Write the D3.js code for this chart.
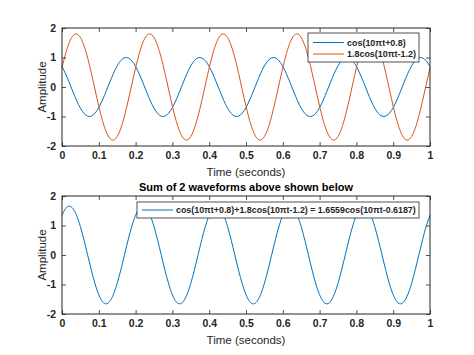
<!DOCTYPE html>
<html>
<head>
<meta charset="utf-8">
<script src="https://cdn.jsdelivr.net/npm/d3@7/dist/d3.min.js"></script>
<style>
  html, body { margin: 0; padding: 0; background: #ffffff; }
  svg { display: block; font-family: "Liberation Sans", Arial, Helvetica, sans-serif; }
</style>
</head>
<body>
<svg id="chart" width="474" height="355"></svg>
<script>
const timeSeconds = [0,0.01,0.02,0.03,0.04,0.05,0.06,0.07,0.08,0.09,0.1,0.11,0.12,0.13,0.14,0.15,0.16,0.17,0.18,0.19,
  0.2,0.21,0.22,0.23,0.24,0.25,0.26,0.27,0.28,0.29,0.3,0.31,0.32,0.33,0.34,0.35,0.36,0.37,0.38,0.39,
  0.4,0.41,0.42,0.43,0.44,0.45,0.46,0.47,0.48,0.49,0.5,0.51,0.52,0.53,0.54,0.55,0.56,0.57,0.58,0.59,
  0.6,0.61,0.62,0.63,0.64,0.65,0.66,0.67,0.68,0.69,0.7,0.71,0.72,0.73,0.74,0.75,0.76,0.77,0.78,0.79,
  0.8,0.81,0.82,0.83,0.84,0.85,0.86,0.87,0.88,0.89,0.9,0.91,0.92,0.93,0.94,0.95,0.96,0.97,0.98,0.99,1];

const wave1 = [0.697,0.441,0.142,-0.171,-0.467,-0.717,-0.898,-0.990,-0.985,-0.884,-0.697,-0.441,-0.142,0.171,0.467,0.717,0.898,0.990,0.985,0.884,
  0.697,0.441,0.142,-0.171,-0.467,-0.717,-0.898,-0.990,-0.985,-0.884,-0.697,-0.441,-0.142,0.171,0.467,0.717,0.898,0.990,0.985,0.884,
  0.697,0.441,0.142,-0.171,-0.467,-0.717,-0.898,-0.990,-0.985,-0.884,-0.697,-0.441,-0.142,0.171,0.467,0.717,0.898,0.990,0.985,0.884,
  0.697,0.441,0.142,-0.171,-0.467,-0.717,-0.898,-0.990,-0.985,-0.884,-0.697,-0.441,-0.142,0.171,0.467,0.717,0.898,0.990,0.985,0.884,
  0.697,0.441,0.142,-0.171,-0.467,-0.717,-0.898,-0.990,-0.985,-0.884,-0.697,-0.441,-0.142,0.171,0.467,0.717,0.898,0.990,0.985,0.884,
  0.697];

const wave2 = [0.652,1.139,1.514,1.741,1.797,1.678,1.394,0.974,0.459,-0.102,-0.652,-1.139,-1.514,-1.741,-1.797,-1.678,-1.394,-0.974,-0.459,0.102,
  0.652,1.139,1.514,1.741,1.797,1.678,1.394,0.974,0.459,-0.102,-0.652,-1.139,-1.514,-1.741,-1.797,-1.678,-1.394,-0.974,-0.459,0.102,
  0.652,1.139,1.514,1.741,1.797,1.678,1.394,0.974,0.459,-0.102,-0.652,-1.139,-1.514,-1.741,-1.797,-1.678,-1.394,-0.974,-0.459,0.102,
  0.652,1.139,1.514,1.741,1.797,1.678,1.394,0.974,0.459,-0.102,-0.652,-1.139,-1.514,-1.741,-1.797,-1.678,-1.394,-0.974,-0.459,0.102,
  0.652,1.139,1.514,1.741,1.797,1.678,1.394,0.974,0.459,-0.102,-0.652,-1.139,-1.514,-1.741,-1.797,-1.678,-1.394,-0.974,-0.459,0.102,
  0.652];

const waveSum = [1.349,1.580,1.656,1.570,1.330,0.960,0.496,-0.016,-0.527,-0.986,-1.349,-1.580,-1.656,-1.570,-1.330,-0.960,-0.496,0.016,0.527,0.986,
  1.349,1.580,1.656,1.570,1.330,0.960,0.496,-0.016,-0.527,-0.986,-1.349,-1.580,-1.656,-1.570,-1.330,-0.960,-0.496,0.016,0.527,0.986,
  1.349,1.580,1.656,1.570,1.330,0.960,0.496,-0.016,-0.527,-0.986,-1.349,-1.580,-1.656,-1.570,-1.330,-0.960,-0.496,0.016,0.527,0.986,
  1.349,1.580,1.656,1.570,1.330,0.960,0.496,-0.016,-0.527,-0.986,-1.349,-1.580,-1.656,-1.570,-1.330,-0.960,-0.496,0.016,0.527,0.986,
  1.349,1.580,1.656,1.570,1.330,0.960,0.496,-0.016,-0.527,-0.986,-1.349,-1.580,-1.656,-1.570,-1.330,-0.960,-0.496,0.016,0.527,0.986,
  1.349];

const xTicks = [0,0.1,0.2,0.3,0.4,0.5,0.6,0.7,0.8,0.9,1];
const xTickLabels = ["0","0.1","0.2","0.3","0.4","0.5","0.6","0.7","0.8","0.9","1"];
const yTicks = [-2,-1,0,1,2];
const yTickLabels = ["-2","-1","0","1","2"];

const legendTop = ["cos(10\u03C0t+0.8)", "1.8cos(10\u03C0t-1.2)"];
const legendBottom = ["cos(10\u03C0t+0.8)+1.8cos(10\u03C0t-1.2) = 1.6559cos(10\u03C0t-0.6187)"];
const xLabel = "Time (seconds)";
const yLabel = "Amplitude";
const bottomTitle = "Sum of 2 waveforms above shown below";

// ---- drawing ----
const blue = "#0072BD", orange = "#D95319", axisColor = "#262626";
const svg = d3.select("#chart");

function drawPanel(top, bottom, seriesList, legendTexts, legendBox) {
  const left = 62, right = 430;
  const x = d3.scaleLinear().domain([0, 1]).range([left, right]);
  const y = d3.scaleLinear().domain([-2, 2]).range([bottom, top]);
  const g = svg.append("g");

  const line = d3.line().x((d, i) => x(timeSeconds[i])).y(d => y(d)).curve(d3.curveNatural);
  seriesList.forEach(s => {
    g.append("path").datum(s.values)
      .attr("fill", "none").attr("stroke", s.color).attr("stroke-width", 1)
      .attr("d", line);
  });

  const tick = 4;
  const fmtX = (d) => xTickLabels[xTicks.indexOf(d)];
  const fmtY = (d) => yTickLabels[yTicks.indexOf(d)];

  const ax = g.append("g").attr("transform", `translate(0,${bottom})`)
    .call(d3.axisBottom(x).tickValues(xTicks).tickFormat(fmtX).tickSizeInner(-tick).tickSizeOuter(0).tickPadding(6));
  const axTop = g.append("g").attr("transform", `translate(0,${top})`)
    .call(d3.axisTop(x).tickValues(xTicks).tickFormat("").tickSizeInner(-tick).tickSizeOuter(0));
  const ay = g.append("g").attr("transform", `translate(${left},0)`)
    .call(d3.axisLeft(y).tickValues(yTicks).tickFormat(fmtY).tickSizeInner(-tick).tickSizeOuter(0).tickPadding(6));
  const ayR = g.append("g").attr("transform", `translate(${right},0)`)
    .call(d3.axisRight(y).tickValues(yTicks).tickFormat("").tickSizeInner(-tick).tickSizeOuter(0));

  [ax, axTop, ay, ayR].forEach(a => {
    a.select(".domain").remove();
    a.selectAll(".tick line").attr("stroke", axisColor).attr("stroke-width", 0.8);
    a.selectAll("text").attr("fill", axisColor).attr("font-size", 10.5).attr("font-weight", "bold")
      .attr("font-family", "'Liberation Sans', Arial, sans-serif");
  });
  ax.selectAll("text").attr("dy", "0.71em");

  g.append("rect").attr("x", left).attr("y", top).attr("width", right - left).attr("height", bottom - top)
    .attr("fill", "none").attr("stroke", axisColor).attr("stroke-width", 1);

  g.append("text").attr("x", (left + right) / 2).attr("y", bottom + 30)
    .attr("text-anchor", "middle").attr("font-size", 11.5).attr("fill", axisColor).text(xLabel);
  g.append("text").attr("transform", `translate(${left - 16},${(top + bottom) / 2}) rotate(-90)`)
    .attr("text-anchor", "middle").attr("font-size", 11.5).attr("fill", axisColor).text(yLabel);

  // legend
  const lg = g.append("g");
  lg.append("rect").attr("x", legendBox.x).attr("y", legendBox.y).attr("width", legendBox.w).attr("height", legendBox.h)
    .attr("fill", "#ffffff").attr("stroke", axisColor).attr("stroke-width", 0.8);
  const textX = legendBox.x + 39;
  const maxW = legendBox.x + legendBox.w - 3 - textX;
  const texts = legendTexts.map((t, i) => {
    const cy = legendBox.y + legendBox.rowStart + i * legendBox.rowGap;
    lg.append("line").attr("x1", legendBox.x + 5).attr("x2", legendBox.x + 36)
      .attr("y1", cy).attr("y2", cy).attr("stroke", seriesList[i].color).attr("stroke-width", 1);
    return lg.append("text").attr("x", textX).attr("y", cy).attr("dy", "0.35em")
      .attr("font-size", 10).attr("font-weight", "bold").attr("fill", axisColor).text(t);
  });
  // fit font size so the widest entry fills the box like the reference
  const widest = d3.max(texts, t => t.node().getComputedTextLength());
  const fs = Math.min(10, 10 * maxW / widest);
  texts.forEach(t => t.attr("font-size", fs));
  return g;
}

drawPanel(28, 146,
  [{values: wave1, color: blue}, {values: wave2, color: orange}],
  legendTop, {x: 308, y: 33, w: 111, h: 29, rowStart: 9.5, rowGap: 11.5});

drawPanel(196, 314,
  [{values: waveSum, color: blue}],
  legendBottom, {x: 137, y: 202, w: 282, h: 16, rowStart: 8, rowGap: 0});

svg.append("text").attr("x", 246).attr("y", 191)
  .attr("text-anchor", "middle").attr("font-size", 11).attr("font-weight", "bold").attr("fill", "#000000")
  .text(bottomTitle);
</script>
</body>
</html>
